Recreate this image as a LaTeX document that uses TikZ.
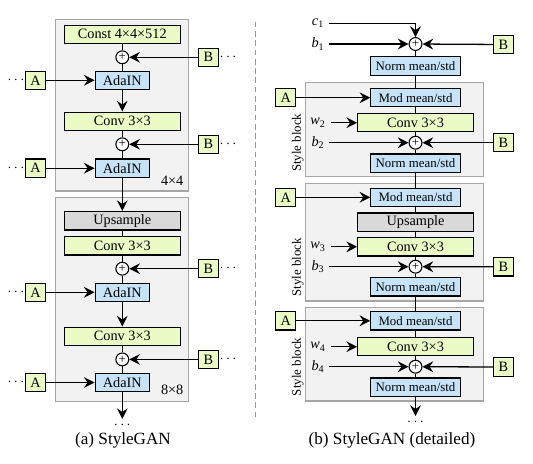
\documentclass[tikz,border=0pt]{standalone}
\usepackage{fontspec}
\setmainfont{Liberation Serif}
\usetikzlibrary{arrows.meta, positioning}
\definecolor{convgreen}{HTML}{EBFBC6}
\definecolor{normblue}{HTML}{C6E3F8}
\definecolor{upgray}{HTML}{D9D9D9}
\definecolor{blockgray}{HTML}{F2F2F2}

\begin{document}
\begin{tikzpicture}[x=0.7pt, y=-0.7pt, line width=0.9pt,
    >={Stealth[length=7.5pt,width=7.5pt,inset=2.6pt]},
    block/.style={draw=black!35, fill=blockgray, line width=0.8pt},
    op/.style={draw, line width=0.75pt, inner sep=0pt, minimum height=12.9pt},
    conv/.style={op, fill=convgreen, minimum width=81pt},
    ups/.style={op, fill=upgray, minimum width=81pt},
    ada/.style={op, fill=normblue, minimum width=38pt},
    norm/.style={op, fill=normblue, minimum width=62.5pt, font=\small},
    inp/.style={op, fill=convgreen, minimum width=13.7pt},
    plus/.style={draw, circle, fill=white, line width=0.75pt, inner sep=0pt, minimum size=9pt, font=\small},
    more/.style={inner sep=0pt},
    lbl/.style={inner sep=3pt},
    side/.style={inner sep=0pt, rotate=90, anchor=west, font=\small}]
  \useasboundingbox (0,0) rectangle (533,463);

  % (a) StyleGAN
  \draw[block] (55.7,19.3) rectangle (188.3,191);
  \draw[block] (55.7,197.3) rectangle (188.3,401.3);

  \node[conv] (const) at (122.3,34.3) {Const 4×4×512};
  \node[plus] (p_1) at (122.3,57.3) {+};
  \node[inp] (B_1) at (208.5,57.3) {B};
  \node[ada] (ada_1) at (122.3,80.3) {AdaIN};
  \node[inp] (A_1) at (35.5,80.3) {A};
  \node[conv] (conv_1) at (122.3,121.3) {Conv 3×3};
  \node[plus] (p_2) at (122.3,144.3) {+};
  \node[inp] (B_2) at (208.5,144.3) {B};
  \node[ada] (ada_2) at (122.3,168.2) {AdaIN};
  \node[inp] (A_2) at (35.5,168.2) {A};
  \node[more, anchor=east] (res_4) at (184,180.5) {4×4};

  \node[ups] (up_1) at (122.3,220.8) {Upsample};
  \node[conv] (conv_2) at (122.3,245.8) {Conv 3×3};
  \node[plus] (p_3) at (122.3,268.7) {+};
  \node[inp] (B_3) at (208.5,268.7) {B};
  \node[ada] (ada_3) at (122.3,292.3) {AdaIN};
  \node[inp] (A_3) at (35.5,292.3) {A};
  \node[conv] (conv_3) at (122.3,336.3) {Conv 3×3};
  \node[plus] (p_4) at (122.3,359.4) {+};
  \node[inp] (B_4) at (208.5,359.4) {B};
  \node[ada] (ada_4) at (122.3,382.5) {AdaIN};
  \node[inp] (A_4) at (35.5,382.5) {A};
  \node[more, anchor=east] (res_8) at (184,390) {8×8};

  \node[more] (dA_1) at (16,80.3) {$\cdots$};
  \node[more] (dA_2) at (16,168.2) {$\cdots$};
  \node[more] (dA_3) at (16,292.3) {$\cdots$};
  \node[more] (dA_4) at (16,382.5) {$\cdots$};
  \node[more] (dB_1) at (228,57.3) {$\cdots$};
  \node[more] (dB_2) at (228,144.3) {$\cdots$};
  \node[more] (dB_3) at (228,268.7) {$\cdots$};
  \node[more] (dB_4) at (228,359.4) {$\cdots$};

  \coordinate (end_a) at (122.3,419);
  \node[more, below=2pt of end_a] (dots_a) {$\cdots$};

  \path
    (const) edge (p_1)
    (p_1) edge (ada_1)
    (conv_1) edge (p_2)
    (p_2) edge (ada_2)
    (up_1) edge (conv_2)
    (conv_2) edge (p_3)
    (p_3) edge (ada_3)
    (conv_3) edge (p_4)
    (p_4) edge (ada_4);
  \path[->]
    (B_1) edge (p_1)
    (B_2) edge (p_2)
    (B_3) edge (p_3)
    (B_4) edge (p_4)
    (A_1) edge (ada_1)
    (A_2) edge (ada_2)
    (A_3) edge (ada_3)
    (A_4) edge (ada_4)
    (ada_1) edge (conv_1)
    (ada_2) edge (up_1)
    (ada_3) edge (conv_3)
    (ada_4) edge (end_a);

  \node[font=\large] (cap_a) at (123,440) {(a) StyleGAN};

  \draw[dashed, black!40, line width=0.6pt, dash pattern=on 4pt off 2.5pt]
    (255.7,21.7) -- (255.7,420);

  % (b) StyleGAN (detailed)
  \draw[block] (305.7,82.7) rectangle (483.3,176.7);
  \draw[block] (305.7,183.3) rectangle (483.3,301);
  \draw[block] (305.7,307.3) rectangle (483.3,401);

  \node[lbl] (c_1) at (318,23.3) {\textit{c}\textsubscript{1}};
  \node[lbl] (b_1) at (318,44) {\textit{b}\textsubscript{1}};
  \node[plus] (q_1) at (415.5,44) {+};
  \node[inp] (rB_1) at (503.5,44.5) {B};
  \node[norm] (norm_1) at (415.5,66) {Norm mean/std};

  \node[inp] (rA_2) at (285.7,97.7) {A};
  \node[norm] (mod_2) at (415.5,97.7) {Mod mean/std};
  \node[lbl] (w_2) at (318,122.7) {\textit{w}\textsubscript{2}};
  \node[conv] (rconv_2) at (415.5,122.7) {Conv 3×3};
  \node[lbl] (b_2) at (318,142.7) {\textit{b}\textsubscript{2}};
  \node[plus] (q_2) at (415.5,142.7) {+};
  \node[inp] (rB_2) at (503.5,142.7) {B};
  \node[norm] (norm_2) at (415.5,163.2) {Norm mean/std};
  \node[side] (sb_2) at (297.7,172.5) {Style block};

  \node[inp] (rA_3) at (285.7,197.3) {A};
  \node[norm] (mod_3) at (415.5,197.3) {Mod mean/std};
  \node[ups] (rup_3) at (415.5,222.2) {Upsample};
  \node[lbl] (w_3) at (318,246.8) {\textit{w}\textsubscript{3}};
  \node[conv] (rconv_3) at (415.5,246.8) {Conv 3×3};
  \node[lbl] (b_3) at (318,266.7) {\textit{b}\textsubscript{3}};
  \node[plus] (q_3) at (415.5,266.7) {+};
  \node[inp] (rB_3) at (503.5,266.8) {B};
  \node[norm] (norm_3) at (415.5,286.8) {Norm mean/std};
  \node[side] (sb_3) at (297.7,297) {Style block};

  \node[inp] (rA_4) at (285.7,320.8) {A};
  \node[norm] (mod_4) at (415.5,320.8) {Mod mean/std};
  \node[lbl] (w_4) at (318,346.7) {\textit{w}\textsubscript{4}};
  \node[conv] (rconv_4) at (415.5,346.7) {Conv 3×3};
  \node[lbl] (b_4) at (318,366.7) {\textit{b}\textsubscript{4}};
  \node[plus] (q_4) at (415.5,366.7) {+};
  \node[inp] (rB_4) at (503.5,367) {B};
  \node[norm] (norm_4) at (415.5,387.2) {Norm mean/std};
  \node[side] (sb_4) at (297.7,396.7) {Style block};

  \coordinate (end_b) at (415.5,416);
  \node[more, below=2pt of end_b] (dots_b) {$\cdots$};

  \path
    (q_1) edge (norm_1)
    (norm_1) edge (mod_2)
    (mod_2) edge (rconv_2)
    (rconv_2) edge (q_2)
    (q_2) edge (norm_2)
    (norm_2) edge (mod_3)
    (mod_3) edge (rup_3)
    (rup_3) edge (rconv_3)
    (rconv_3) edge (q_3)
    (q_3) edge (norm_3)
    (norm_3) edge (mod_4)
    (mod_4) edge (rconv_4)
    (rconv_4) edge (q_4)
    (q_4) edge (norm_4);
  \draw[->] (c_1.east) -| (q_1);
  \path[->]
    (b_1) edge (q_1)
    (rB_1) edge (q_1)
    (rA_2) edge (mod_2)
    (w_2) edge (rconv_2)
    (b_2) edge (q_2)
    (rB_2) edge (q_2)
    (rA_3) edge (mod_3)
    (w_3) edge (rconv_3)
    (b_3) edge (q_3)
    (rB_3) edge (q_3)
    (rA_4) edge (mod_4)
    (w_4) edge (rconv_4)
    (b_4) edge (q_4)
    (rB_4) edge (q_4)
    (norm_4) edge (end_b);

  \node[font=\large] (cap_b) at (392,440) {(b) StyleGAN (detailed)};
\end{tikzpicture}
\end{document}
